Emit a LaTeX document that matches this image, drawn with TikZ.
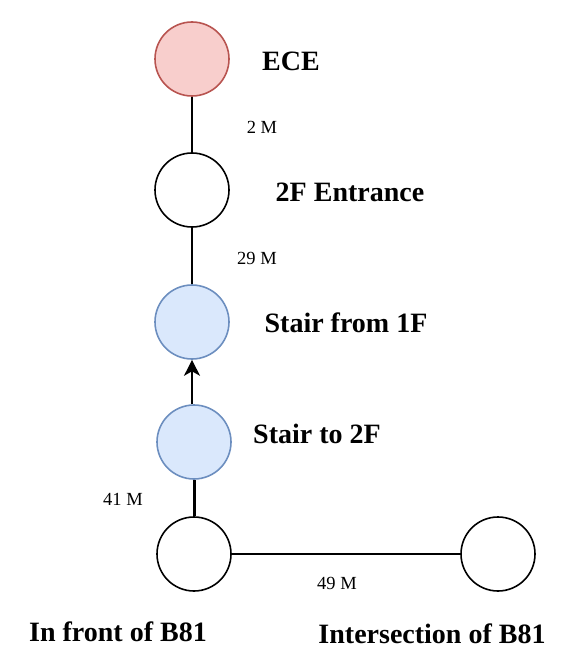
\documentclass[tikz,border=0pt]{standalone}
\usepackage{fontspec}
\setmainfont{Liberation Serif}
\usetikzlibrary{arrows.meta, positioning}
\definecolor{redfill}{HTML}{F8CECC}
\definecolor{redborder}{HTML}{B85450}
\definecolor{bluefill}{HTML}{DAE8FC}
\definecolor{blueborder}{HTML}{6C8EBF}

\begin{document}
\begin{tikzpicture}[
    x=1pt, y=-1pt,
    place/.style={circle, draw=black, fill=white, minimum size=74pt,
        inner sep=0pt, line width=1.6pt},
    target/.style={place, fill=redfill, draw=redborder},
    stairnode/.style={place, fill=bluefill, draw=blueborder},
    lbl/.style={font=\fontsize{28}{32}\selectfont\bfseries, inner sep=0pt},
    dist/.style={font=\fontsize{18.5}{21}\selectfont, inner sep=0pt},
    link/.style={line width=1.5pt},
]
\useasboundingbox (0,0) rectangle (565,671);

% --- Places ---
\node[target] (ece) at (192, 59) {};
\node[place] (entr) at (192, 190) {};
\node[stairnode] (sfrom) at (192, 322) {};
\node[stairnode] (sto) at (194, 442) {};
\node[place] (front) at (194, 554) {};
\node[place] (inter) at (498, 554) {};

% --- Place names ---
\node[lbl] (ecelbl) at (291, 61) {ECE};
\node[lbl] (entrlbl) at (350, 192) {2F Entrance};
\node[lbl] (sfromlbl) at (346, 323) {Stair from 1F};
\node[lbl] (stolbl) at (317, 434) {Stair to 2F};
\node[lbl] (frontlbl) at (118, 632) {In front of B81};
\node[lbl] (interlbl) at (432, 634) {Intersection of B81};

% --- Connections ---
\draw[link] (ece) -- (entr);
\draw[link] (entr) -- (sfrom);
\draw[link, -{Stealth[length=16pt, width=16pt, inset=4.5pt]}]
    (sto.north -| sfrom) -- (sfrom.south);
\draw[line width=3pt] (sto) -- (front);
\draw[link] (front) -- (inter);

% --- Distances ---
\node[dist] (d1) at (262, 127) {2 M};
\node[dist] (d2) at (257, 258) {29 M};
\node[dist] (d3) at (123, 499) {41 M};
\node[dist] (d4) at (337, 583) {49 M};
\end{tikzpicture}
\end{document}
